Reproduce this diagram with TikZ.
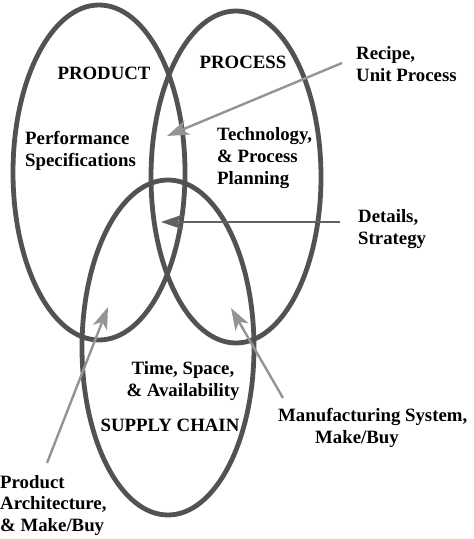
\documentclass[tikz,border=0pt]{standalone}
\usepackage{fontspec}
\setmainfont{Liberation Serif}
\usetikzlibrary{arrows.meta}
\begin{document}
\begin{tikzpicture}[x=1pt,y=1pt,
  ring/.style={draw=black!68,line width=4.8pt},
  lbl/.style={inner sep=0pt,font=\bfseries\fontsize{18.8}{22}\selectfont},
  lightarrow/.style={draw=black!42,line width=2.4pt,
    -{Stealth[length=22pt,width=15pt,inset=6pt,fill=black!42]}},
  darkarrow/.style={draw=black!62,line width=2.4pt,
    -{Stealth[length=22pt,width=15pt,inset=6pt,fill=black!62]}}]
\useasboundingbox (0,0) rectangle (474,539);
% ellipses
\draw[ring] (99,366.5) ellipse [x radius=86, y radius=167.5];
\draw[ring] (236,362) ellipse [x radius=85, y radius=166];
\draw[ring] (168,191.5) ellipse [x radius=86, y radius=167.5];
% labels (multi-line nodes: base = baseline of last line)
\node[lbl,anchor=base] (product) at (104,459) {PRODUCT};
\node[lbl,anchor=base] (process) at (243,470) {PROCESS};
\node[lbl,anchor=base west,align=left] (recipe) at (356,457) {Recipe,\\Unit Process};
\node[lbl,anchor=base west,align=left] (perf) at (25,372) {Performance\\Specifications};
\node[lbl,anchor=base west,align=left] (tech) at (217,354) {Technology,\\\& Process\\Planning};
\node[lbl,anchor=base west,align=left] (details) at (358,294) {Details,\\Strategy};
\node[lbl,anchor=base,align=center] (time) at (183,142) {Time, Space,\\\& Availability};
\node[lbl,anchor=base] (supply) at (170,107) {SUPPLY CHAIN};
\node[lbl,anchor=base west,align=left] (mfg) at (278,95) {Manufacturing System,\\\hspace{37pt}Make/Buy};
\node[lbl,anchor=base west,align=left] (arch) at (0,7) {Product\\Architecture,\\\& Make/Buy};
% arrow ends
\coordinate (a1s) at (342,476);
\coordinate (a1e) at (167,403);
\coordinate (a2s) at (340,317);
\coordinate (a2e) at (161,317);
\coordinate (a3s) at (47,76);
\coordinate (a3e) at (108,232);
\coordinate (a4s) at (283,141);
\coordinate (a4e) at (231,231);
\draw[lightarrow] (a1s) -- (a1e);
\draw[darkarrow] (a2s) -- (a2e);
\draw[lightarrow] (a3s) -- (a3e);
\draw[lightarrow] (a4s) -- (a4e);
\end{tikzpicture}
\end{document}
